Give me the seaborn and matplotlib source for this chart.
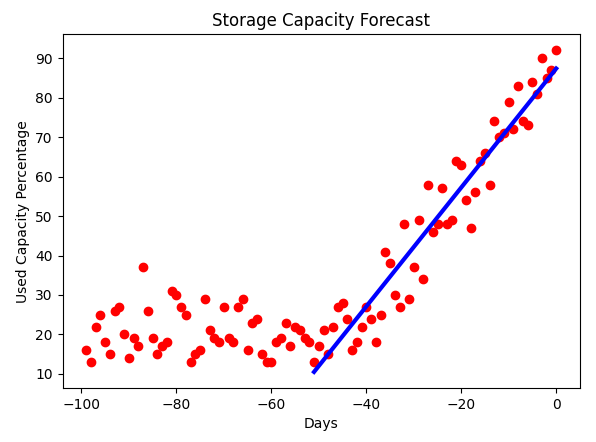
import numpy as np
import pandas as pd
import seaborn as sns
import matplotlib
matplotlib.use("Agg")
import matplotlib.pyplot as plt

# data
days = list(range(-99, 1))
used = [
    16, 13, 22, 25, 18, 15, 26, 27, 20, 14,
    19, 17, 37, 26, 19, 15, 17, 18, 31, 30,
    27, 25, 13, 15, 16, 29, 21, 19, 18, 27,
    19, 18, 27, 29, 16, 23, 24, 15, 13, 13,
    18, 19, 23, 17, 22, 21, 19, 18, 13, 17,
    21, 15, 22, 27, 28, 24, 16, 18, 22, 27,
    24, 18, 25, 41, 38, 30, 27, 48, 29, 37,
    49, 34, 58, 46, 48, 57, 48, 49, 64, 63,
    54, 47, 56, 64, 66, 58, 74, 70, 71, 79,
    72, 83, 74, 73, 84, 81, 90, 85, 87, 92,
]
trend_days = [-51, 0]
trend_used = [10.5, 87.4]

df = pd.DataFrame({"Days": days, "Used": used})
trend = pd.DataFrame({"Days": trend_days, "Used": trend_used})

fig, ax = plt.subplots(figsize=(5.96, 4.42), dpi=100)
fig.subplots_adjust(left=0.105, right=0.9727, top=0.9224, bottom=0.1222)

sns.scatterplot(data=df, x="Days", y="Used", color="red", s=36,
                edgecolor="red", linewidth=1, ax=ax)
sns.lineplot(data=trend, x="Days", y="Used", color="blue", linewidth=3, ax=ax)

ax.set_title("Storage Capacity Forecast")
ax.set_xlabel("Days")
ax.set_ylabel("Used Capacity Percentage")

fig.savefig("out.png", dpi=100)
